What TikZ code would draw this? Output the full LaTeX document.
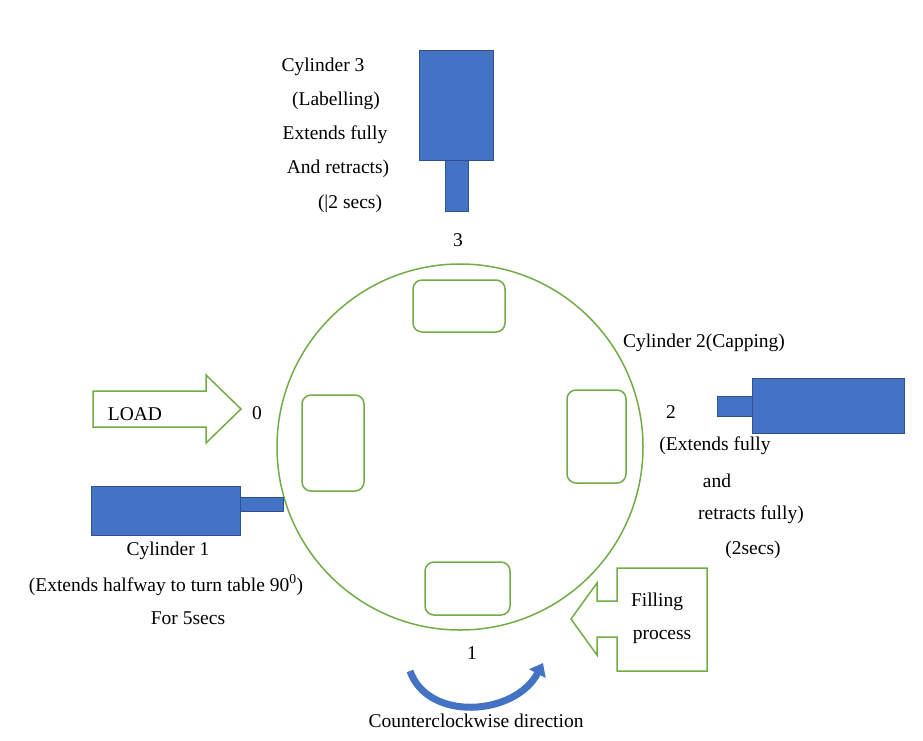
\documentclass[tikz,border=0pt]{standalone}
\usepackage{fontspec}
\setmainfont{Liberation Serif}
\usetikzlibrary{arrows.meta}
\begin{document}
\begin{tikzpicture}[x=1pt,y=-1pt]
			\tikzstyle{texte}=[font=\fontsize{19.5}{23}\selectfont,inner sep=0pt,yshift=-3pt]
			\tikzstyle{vert}=[draw={rgb,255:red,112;green,173;blue,71},line width=1.5pt]
			\tikzstyle{piston}=[fill={rgb,255:red,68;green,114;blue,196},draw={rgb,255:red,47;green,82;blue,143},line width=1pt]
			\def\CentreX{460}
			\def\CentreY{447}
			\def\Rayon{183}
			\useasboundingbox (0,0) rectangle (923,740);
			% plateau tournant
			\draw[vert] ({\CentreX},{\CentreY}) circle ({\Rayon});
			\draw[vert,rounded corners=9pt] (413,280) rectangle (505,332);
			\draw[vert,rounded corners=9pt] (302,395) rectangle (364,491);
			\draw[vert,rounded corners=9pt] (567,390) rectangle (626,483);
			\draw[vert,rounded corners=9pt] (425,562) rectangle (510,615);
			% verins
			\draw[piston] (419,50) rectangle (493,160);
			\draw[piston] (445,160) rectangle (468,211);
			\draw[piston] (752,378) rectangle (904,433);
			\draw[piston] (717,396) rectangle (752,416);
			\draw[piston] (91,486) rectangle (240,535);
			\draw[piston] (240,497) rectangle (283,511);
			% fleches
			\draw[vert] (93,391) -- (206,391) -- (206,375) -- (241,409) -- (206,443) -- (206,427) -- (93,427) -- cycle;
			\draw[vert] (617,568) -- (707,568) -- (707,671) -- (617,671) -- (617,637) -- (597,637) -- (597,655) -- (571,619) -- (597,583) -- (597,601) -- (617,601) -- cycle;
			\draw[line width=7pt,draw={rgb,255:red,68;green,114;blue,196},-{Triangle[width=18pt,length=12pt]}] (410,671) .. controls (428,722) and (515,716) .. (543,663);
			% textes
			\node[texte] (C3a) at (323,64) {Cylinder 3};
			\node[texte] (C3b) at (336,98) {(Labelling)};
			\node[texte] (C3c) at (335,132) {Extends fully};
			\node[texte] (C3d) at (338,166) {And retracts)};
			\node[texte] (C3e) at (350,201) {(|2 secs)};
			\node[texte] (P3) at (458,237) {3};
			\node[texte] (P0) at (257,410) {0};
			\node[texte] (P2) at (671,409) {2};
			\node[texte] (P1) at (472,650) {1};
			\node[texte] (Load) at (135,411) {LOAD};
			\node[texte] (C2a) at (704,340) {Cylinder 2(Capping)};
			\node[texte] (C2b) at (715,443) {(Extends fully};
			\node[texte] (C2c) at (717,478) {and};
			\node[texte] (C2d) at (751,512) {retracts fully)};
			\node[texte] (C2e) at (753,547) {(2secs)};
			\node[texte] (C1a) at (168,548) {Cylinder 1};
			\node[texte] (C1b) at (166,582) {(Extends halfway to turn table 90\textsuperscript{0})};
			\node[texte] (C1c) at (188,615) {For 5secs};
			\node[texte] (Fa) at (657,599) {Filling};
			\node[texte] (Fb) at (662,634) {process};
			\node[texte] (Sens) at (476,718) {Counterclockwise direction};
		\end{tikzpicture}
\end{document}
